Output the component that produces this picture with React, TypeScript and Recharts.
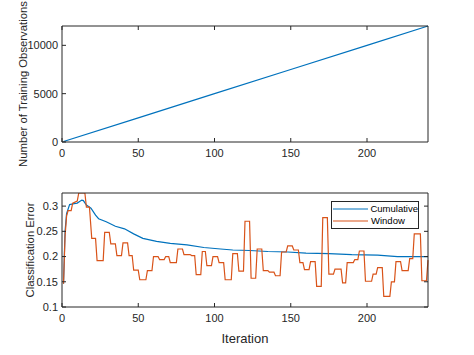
import { LineChart, Line, XAxis, YAxis, Legend } from 'recharts';

const FONT = '"Liberation Sans", Arial, Helvetica, sans-serif';
const AXIS = '#262626';
const BLUE = '#0072BD';
const ORANGE = '#D95319';

const iterTicks = [0, 50, 100, 150, 200];
const obsTicks = [0, 5000, 10000];
const errTicks = [0.1, 0.15, 0.2, 0.25, 0.3];

// top panel: training observations seen so far
const obsIter = [1, 50, 100, 150, 200, 240];
const obsCount = [50, 2500, 5000, 7500, 10000, 12000];

// bottom panel: cumulative error
const cumIter = [1, 2, 3, 5, 8, 10, 13, 14, 16, 19, 22, 24, 29, 35, 41, 47, 53, 62, 71, 82, 93, 104, 112, 123, 135, 148, 160, 175, 190, 207, 220, 240];
const cumErr = [0.146, 0.25, 0.285, 0.303, 0.305, 0.306, 0.312, 0.311, 0.302, 0.296, 0.282, 0.275, 0.269, 0.26, 0.255, 0.245, 0.236, 0.23, 0.226, 0.223, 0.218, 0.215, 0.213, 0.212, 0.21, 0.209, 0.207, 0.206, 0.204, 0.203, 0.2, 0.2];

// bottom panel: windowed error
const winIter = [
  1, 2, 3, 4, 6, 7, 10, 11, 15, 16, 18, 19.5, 22, 23, 27, 28, 31, 32, 35, 36, 39, 40, 43, 44, 46, 47, 50, 51, 55, 56, 59,
  60, 63, 64, 67, 68, 70, 71, 75, 76, 79, 80, 84, 85, 87, 88, 91, 92, 94, 95, 98, 99, 102, 103, 106, 107, 111, 112, 115,
  116, 119, 120, 123, 124, 127, 128, 131, 132, 135, 136, 139, 140, 143, 144, 147, 148, 151, 152, 155, 156, 158, 159, 162,
  163, 166, 167, 170, 171, 174, 175, 178, 179, 183, 184, 186, 187, 191, 192, 194, 195, 198, 199, 203, 204, 206, 207, 210,
  211, 215, 216, 218, 219, 222, 223, 227, 228, 230, 231, 235, 236, 239, 240,
];
const winErr = [
  0.146, 0.24, 0.28, 0.291, 0.291, 0.306, 0.31, 0.326, 0.326, 0.298, 0.298, 0.236, 0.236, 0.192, 0.192, 0.248, 0.248,
  0.225, 0.225, 0.202, 0.202, 0.227, 0.227, 0.202, 0.202, 0.173, 0.173, 0.154, 0.154, 0.172, 0.172,
  0.2, 0.2, 0.194, 0.194, 0.2, 0.2, 0.188, 0.188, 0.215, 0.215, 0.204, 0.204, 0.202, 0.202, 0.164, 0.164, 0.21, 0.21,
  0.182, 0.182, 0.2, 0.2, 0.188, 0.188, 0.154, 0.154, 0.206, 0.206,
  0.171, 0.171, 0.27, 0.27, 0.157, 0.157, 0.215, 0.215, 0.172, 0.172, 0.169, 0.169, 0.162, 0.162, 0.209, 0.209, 0.221,
  0.221, 0.213, 0.213, 0.188, 0.188, 0.174, 0.174,
  0.19, 0.19, 0.141, 0.141, 0.277, 0.277, 0.165, 0.165, 0.175, 0.175, 0.148, 0.148, 0.188, 0.188, 0.194, 0.194, 0.211,
  0.211, 0.151, 0.151, 0.165, 0.165, 0.178, 0.178,
  0.121, 0.121, 0.15, 0.15, 0.19, 0.19, 0.172, 0.172, 0.196, 0.196, 0.245, 0.245, 0.152, 0.152, 0.193,
];

const obsData = obsIter.map((it, i) => ({ it, v: obsCount[i] }));
const cumData = cumIter.map((it, i) => ({ it, v: cumErr[i] }));
const winData = winIter.map((it, i) => ({ it, v: winErr[i] }));

const tickStyle = { fill: AXIS, fontSize: 11, fontFamily: FONT };
const blank = () => '';

function ErrLegend({ payload }: any) {
  return (
    <div style={{ border: `1px solid ${AXIS}`, background: '#fff', padding: '1px 0', width: 86, fontFamily: FONT, fontSize: 9.5 }}>
      {(payload || []).map((p: any) => (
        <div key={p.value} style={{ display: 'flex', alignItems: 'center', height: 12 }}>
          <svg width={39} height={12} style={{ display: 'block' }}>
            <line x1={1} x2={36} y1={6} y2={6} stroke={p.color} strokeWidth={1.2} />
          </svg>
          <span style={{ color: '#000', lineHeight: '12px' }}>{p.value}</span>
        </div>
      ))}
    </div>
  );
}

export default function App() {
  return (
    <div style={{ position: 'absolute', left: 0, top: 0, width: 474, height: 355, background: '#fff', fontFamily: FONT }}>
      <div style={{ position: 'absolute', left: 0, top: 0 }}>
        <LineChart width={474} height={175} data={obsData} margin={{ top: 25, right: 45, left: 0, bottom: 0 }}>
          <XAxis xAxisId="b" type="number" dataKey="it" domain={[0, 240]} ticks={iterTicks} height={33}
            stroke={AXIS} tick={tickStyle} tickSize={-4} tickMargin={11} />
          <XAxis xAxisId="t" orientation="top" type="number" dataKey="it" domain={[0, 240]} ticks={iterTicks} height={1}
            stroke={AXIS} tickSize={-4} tickFormatter={blank} />
          <YAxis yAxisId="l" type="number" domain={[0, 12000]} ticks={obsTicks} width={62}
            stroke={AXIS} tick={tickStyle} tickSize={-4} tickMargin={8}
            label={{ value: 'Number of Training Observations', angle: -90, position: 'center', dx: -8, fill: AXIS, fontSize: 11.3, fontFamily: FONT }} />
          <YAxis yAxisId="r" orientation="right" type="number" domain={[0, 12000]} ticks={obsTicks} width={1}
            stroke={AXIS} tickSize={-4} tickFormatter={blank} />
          <Line xAxisId="b" yAxisId="l" type="linear" dataKey="v" stroke={BLUE} strokeWidth={1.2} dot={false} isAnimationActive={false} />
        </LineChart>
      </div>
      <div style={{ position: 'absolute', left: 0, top: 175 }}>
        <LineChart width={474} height={180} margin={{ top: 17, right: 45, left: 0, bottom: 0 }}>
          <XAxis xAxisId="b" type="number" dataKey="it" domain={[0, 240]} ticks={iterTicks} height={48}
            stroke={AXIS} tick={tickStyle} tickSize={-4} tickMargin={11}
            label={{ value: 'Iteration', position: 'center', dy: 7, fill: AXIS, fontSize: 13, fontFamily: FONT }} />
          <XAxis xAxisId="t" orientation="top" type="number" dataKey="it" domain={[0, 240]} ticks={iterTicks} height={1}
            stroke={AXIS} tickSize={-4} tickFormatter={blank} />
          <YAxis yAxisId="l" type="number" domain={[0.1, 0.326]} ticks={errTicks} width={62} allowDataOverflow
            stroke={AXIS} tick={tickStyle} tickSize={-4} tickMargin={8}
            label={{ value: 'Classification Error', angle: -90, position: 'center', dx: -1, fill: AXIS, fontSize: 11.3, fontFamily: FONT }} />
          <YAxis yAxisId="r" orientation="right" type="number" domain={[0.1, 0.326]} ticks={errTicks} width={1} allowDataOverflow
            stroke={AXIS} tickSize={-4} tickFormatter={blank} />
          <Legend layout="vertical" align="center" verticalAlign="middle" content={<ErrLegend />}
            wrapperStyle={{ left: 331, top: 26, width: 88, height: 28 }} />
          <Line xAxisId="b" yAxisId="l" data={cumData} type="linear" dataKey="v" name="Cumulative" stroke={BLUE} strokeWidth={1.2} dot={false} isAnimationActive={false} />
          <Line xAxisId="b" yAxisId="l" data={winData} type="linear" dataKey="v" name="Window" stroke={ORANGE} strokeWidth={1.2} dot={false} isAnimationActive={false} />
        </LineChart>
      </div>
    </div>
  );
}
